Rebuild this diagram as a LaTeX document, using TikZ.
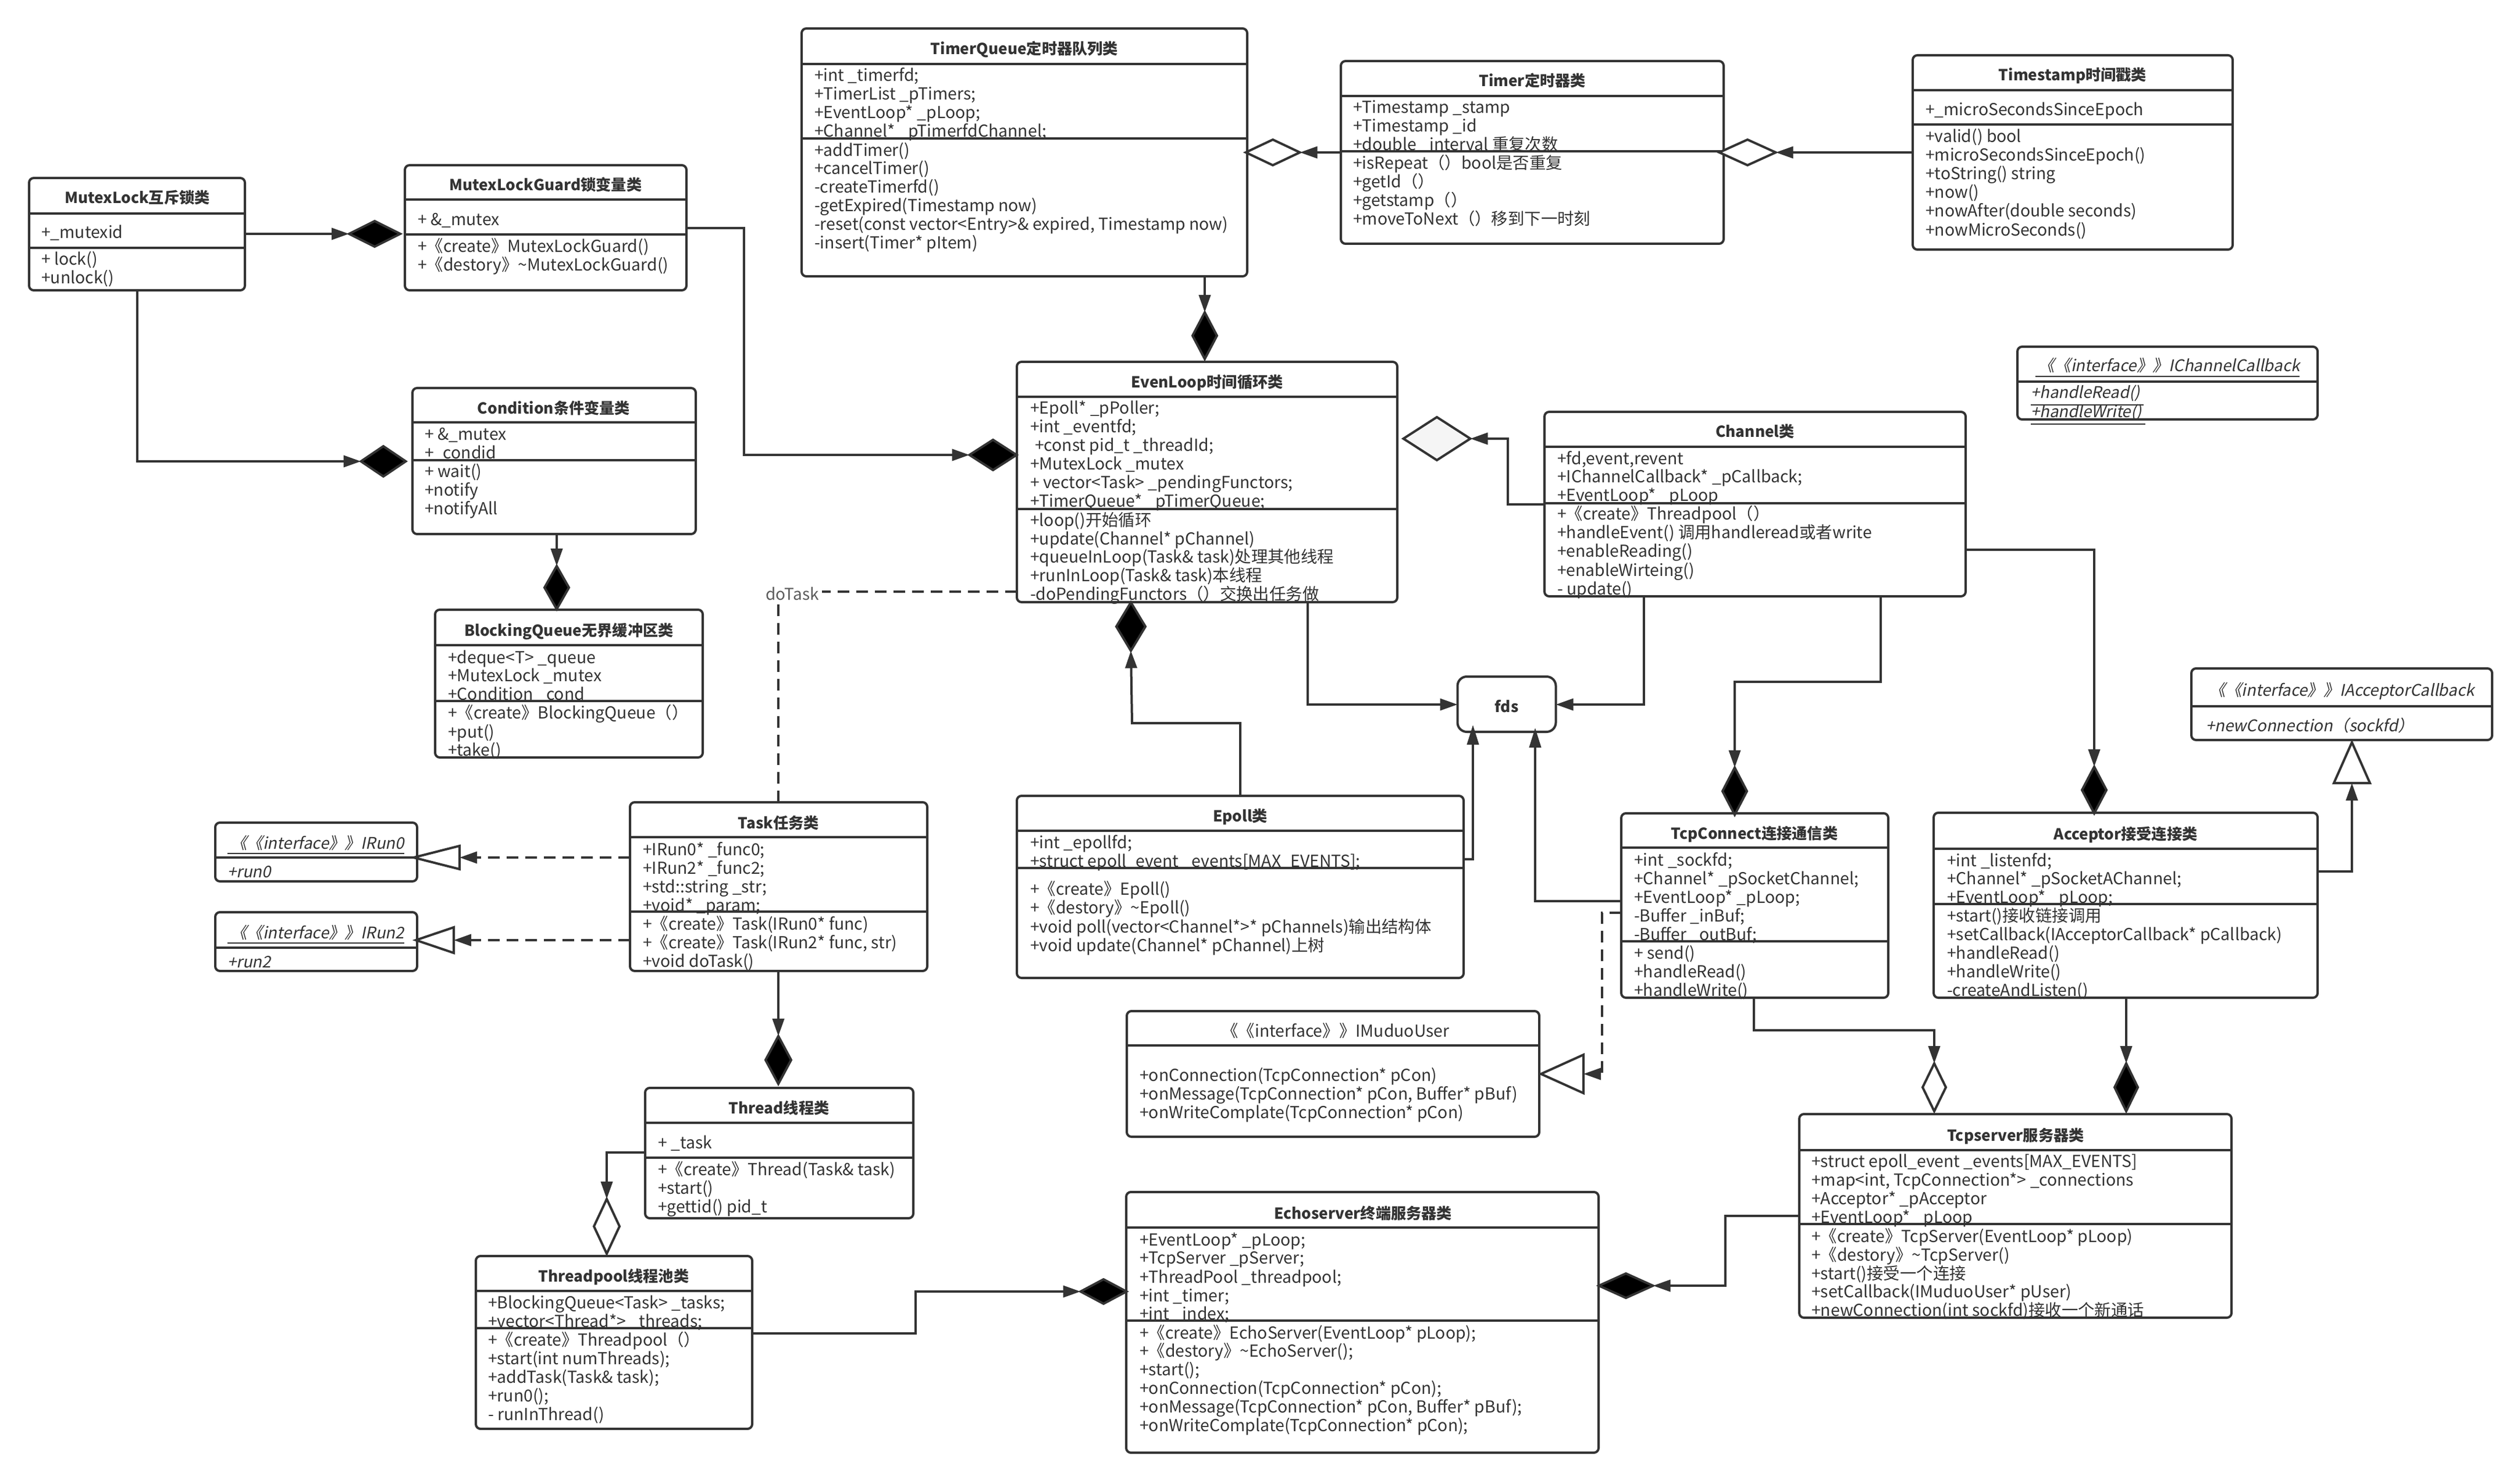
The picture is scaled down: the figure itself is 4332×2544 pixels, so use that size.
\documentclass[tikz,border=0pt]{standalone}
\usepackage{fontspec}
\setmainfont{Noto Sans CJK SC}
\newfontfamily\itfont[FakeSlant=0.2]{Noto Sans CJK SC}
\usetikzlibrary{shapes.geometric,arrows.meta,calc}
\definecolor{ink}{HTML}{333333}
\newcounter{tc}
\tikzset{
  x=0.25pt,y=-0.25pt,
  umlbox/.style={draw=ink,line width=1pt,rounded corners=2pt,inner sep=0pt,outer sep=0pt},
  divider/.style={draw=ink,line width=1pt},
  txt/.style={anchor=base west,inner sep=0pt,outer sep=0pt,text=ink,font=\fontsize{7.1pt}{8pt}\selectfont},
  ttl/.style={anchor=base,inner sep=0pt,outer sep=0pt,text=ink,font=\fontsize{6.55pt}{8pt}\selectfont\bfseries},
  ittl/.style={anchor=base,inner sep=0pt,outer sep=0pt,text=ink,font=\fontsize{6.9pt}{8pt}\selectfont\itfont},
  conn/.style={draw=ink,line width=1pt,-{Triangle[length=7.5pt,width=5pt]}},
  plainconn/.style={draw=ink,line width=1pt},
  dashconn/.style={draw=ink,line width=1pt,dash pattern=on 5pt off 3pt},
  dfull/.style={diamond,aspect=1,draw=ink,fill=black,line width=1pt,inner sep=0pt,outer sep=0pt},
  dopen/.style={diamond,aspect=1,draw=ink,fill=white,line width=1pt,inner sep=0pt,outer sep=0pt},
  dgray/.style={diamond,aspect=1,draw=ink,fill=black!4,line width=1pt,inner sep=0pt,outer sep=0pt},
  tri/.style={draw=ink,fill=white,line width=1pt},
}
% box: name, x0, y0, x1, y1, div1, div2
\newcommand{\ubox}[7]{%
  \pgfmathsetlengthmacro{\bw}{(#4-#2)*0.25}\pgfmathsetlengthmacro{\bh}{(#5-#3)*0.25}%
  \node[umlbox,minimum width=\bw,minimum height=\bh] (#1) at ({(#2+#4)/2},{(#3+#5)/2}) {};%
  \draw[divider] (#1.west |- 0,#6) -- (#1.east |- 0,#6);%
  \ifx\relax#7\relax\else\draw[divider] (#1.west |- 0,#7) -- (#1.east |- 0,#7);\fi
}
\newcommand{\tl}[3]{\stepcounter{tc}\node[txt] (t\arabic{tc}) at (#1,{#2+10}) {#3};}
\newcommand{\ttlat}[3]{\stepcounter{tc}\node[ttl] (t\arabic{tc}) at (#1,{#2+10}) {#3};}
\newcommand{\ittlat}[3]{\stepcounter{tc}\node[ittl] (t\arabic{tc}) at (#1,{#2+10}) {#3};}
\newcommand{\dm}[6]{\node[#1,minimum width=#5*0.25pt,minimum height=#6*0.25pt] (#2) at (#3,#4) {};}
\begin{document}
\begin{tikzpicture}
\useasboundingbox[fill=white] (0,0) rectangle (4332,2544);

% MutexLock
\ubox{mlock}{50}{306}{421}{499}{367}{426}
\ttlat{236}{340}{MutexLock互斥锁类}
\tl{71}{400}{+\_mutexid}\tl{71}{446}{+ lock()}\tl{71}{478}{+unlock()}
% MutexLockGuard
\ubox{guard}{696}{284}{1180}{499}{343}{403}
\ttlat{938}{318}{MutexLockGuard锁变量类}
\tl{718}{378}{+ \&\_mutex}\tl{718}{424}{+《create》MutexLockGuard()}\tl{718}{456}{+《destory》\textasciitilde MutexLockGuard()}
% Condition
\ubox{cond}{709}{667}{1196}{918}{726}{791}
\ttlat{952}{702}{Condition条件变量类}
\tl{730}{747}{+ \&\_mutex}\tl{730}{779}{+\_condid}\tl{730}{811}{+ wait()}\tl{730}{843}{+notify}\tl{730}{875}{+notifyAll}
% BlockingQueue
\ubox{bq}{748}{1048}{1208}{1302}{1109}{1205}
\ttlat{978}{1083}{BlockingQueue无界缓冲区类}
\tl{770}{1130}{+deque<T> \_queue}\tl{770}{1161}{+MutexLock \_mutex}\tl{770}{1193}{+Condition \_cond}
\tl{770}{1225}{+《create》BlockingQueue（）}\tl{770}{1258}{+put()}\tl{770}{1289}{+take()}
% TimerQueue
\ubox{tq}{1378}{49}{2144}{475}{110}{238}
\ttlat{1761}{84}{TimerQueue定时器队列类}
\tl{1400}{130}{+int \_timerfd;}\tl{1400}{162}{+TimerList \_pTimers;}\tl{1400}{194}{+EventLoop* \_pLoop;}\tl{1400}{226}{+Channel* \_pTimerfdChannel;}
\tl{1400}{259}{+addTimer()}\tl{1400}{290}{+cancelTimer()}\tl{1400}{322}{-createTimerfd()}\tl{1400}{354}{-getExpired(Timestamp now)}\tl{1400}{386}{-reset(const vector<Entry>\& expired, Timestamp now)}\tl{1400}{418}{-insert(Timer* pItem)}
% Timer
\ubox{timer}{2305}{105}{2963}{419}{165}{260}
\ttlat{2634}{139}{Timer定时器类}
\tl{2326}{185}{+Timestamp \_stamp}\tl{2326}{217}{+Timestamp \_id}\tl{2326}{249}{+double \_interval 重复次数}
\tl{2326}{281}{+isRepeat（）bool是否重复}\tl{2326}{313}{+getId（）}\tl{2326}{345}{+getstamp（）}\tl{2326}{377}{+moveToNext（）移到下一时刻}
% Timestamp
\ubox{tstamp}{3288}{95}{3838}{429}{155}{214}
\ttlat{3563}{129}{Timestamp时间戳类}
\tl{3310}{189}{+\_microSecondsSinceEpoch}\tl{3310}{235}{+valid() bool}\tl{3310}{267}{+microSecondsSinceEpoch()}\tl{3310}{299}{+toString() string}\tl{3310}{331}{+now()}\tl{3310}{363}{+nowAfter(double seconds)}\tl{3310}{396}{+nowMicroSeconds()}
% EvenLoop
\ubox{loop}{1748}{622}{2402}{1035}{682}{875}
\ttlat{2075}{657}{EvenLoop时间循环类}
\tl{1771}{702}{+Epoll* \_pPoller;}\tl{1771}{734}{+int \_eventfd;}\tl{1779}{766}{+const pid\_t \_threadId;}\tl{1771}{798}{+MutexLock \_mutex}\tl{1771}{830}{+ vector<Task> \_pendingFunctors;}\tl{1771}{862}{+TimerQueue* \_pTimerQueue;}
\tl{1771}{894}{+loop()开始循环}\tl{1771}{926}{+update(Channel* pChannel)}\tl{1771}{958}{+queueInLoop(Task\& task)处理其他线程}\tl{1771}{990}{+runInLoop(Task\& task)本线程}\tl{1771}{1022}{-doPendingFunctors（）交换出任务做}
% Channel
\ubox{chan}{2655}{708}{3379}{1025}{768}{865}
\ttlat{3017}{742}{Channel类}
\tl{2677}{789}{+fd,event,revent}\tl{2677}{820}{+IChannelCallback* \_pCallback;}\tl{2677}{852}{+EventLoop* \_pLoop}
\tl{2677}{884}{+《create》Threadpool（）}\tl{2677}{916}{+handleEvent() 调用handleread或者write}\tl{2677}{948}{+enableReading()}\tl{2677}{980}{+enableWirteing()}\tl{2677}{1012}{- update()}
% IChannelCallback
\ubox{ichan}{3468}{596}{3984}{721}{656}{}
\ittlat{3726}{629}{\underline{\ 《《interface》》IChannelCallback}}
\stepcounter{tc}\node[ittl,anchor=base west] (t\arabic{tc}) at (3491,685) {\underline{+handleRead()\ }};
\stepcounter{tc}\node[ittl,anchor=base west] (t\arabic{tc}) at (3491,718) {\underline{+handleWrite()\ }};
% IAcceptorCallback
\ubox{iacc}{3767}{1149}{4284}{1272}{1214}{}
\ittlat{4026}{1186}{《《interface》》IAcceptorCallback}
\stepcounter{tc}\node[ittl,anchor=base west] (t\arabic{tc}) at (3792,1257) {+newConnection（sockfd）};
% fds
\node[umlbox,rounded corners=4pt,minimum width=42.25pt,minimum height=23.75pt] (fds) at (2590,1210.5) {};
\ttlat{2590}{1214}{fds}
% Epoll
\ubox{epoll}{1748}{1368}{2516}{1681}{1428}{1492}
\ttlat{2132}{1402}{Epoll类}
\tl{1771}{1448}{+int \_epollfd;}\tl{1771}{1480}{+struct epoll\_event \_events[MAX\_EVENTS];}
\tl{1771}{1528}{+《create》Epoll()}\tl{1771}{1560}{+《destory》\textasciitilde Epoll()}\tl{1771}{1593}{+void poll(vector<Channel*>* pChannels)输出结构体}\tl{1771}{1625}{+void update(Channel* pChannel)上树}
% TcpConnect
\ubox{tcpc}{2787}{1398}{3246}{1715}{1457}{1618}
\ttlat{3016}{1432}{TcpConnect连接通信类}
\tl{2809}{1478}{+int \_sockfd;}\tl{2809}{1510}{+Channel* \_pSocketChannel;}\tl{2809}{1542}{+EventLoop* \_pLoop;}\tl{2809}{1574}{-Buffer \_inBuf;}\tl{2809}{1606}{-Buffer \_outBuf;}
\tl{2809}{1638}{+ send()}\tl{2809}{1670}{+handleRead()}\tl{2809}{1702}{+handleWrite()}
% Acceptor
\ubox{acc}{3324}{1397}{3984}{1715}{1459}{1554}
\ttlat{3654}{1433}{Acceptor接受连接类}
\tl{3347}{1479}{+int \_listenfd;}\tl{3347}{1510}{+Channel* \_pSocketAChannel;}\tl{3347}{1542}{+EventLoop* \_pLoop;}
\tl{3347}{1574}{+start()接收链接调用}\tl{3347}{1606}{+setCallback(IAcceptorCallback* pCallback)}\tl{3347}{1638}{+handleRead()}\tl{3347}{1670}{+handleWrite()}\tl{3347}{1702}{-createAndListen()}
% IMuduoUser
\ubox{imu}{1937}{1738}{2646}{1954}{1797}{}
\stepcounter{tc}\node[txt,anchor=base] (t\arabic{tc}) at (2296,1782) {《《interface》》IMuduoUser};
\tl{1959}{1848}{+onConnection(TcpConnection* pCon)}\tl{1959}{1880}{+onMessage(TcpConnection* pCon, Buffer* pBuf)}\tl{1959}{1912}{+onWriteComplate(TcpConnection* pCon)}
% Tcpserver
\ubox{tsrv}{3093}{1915}{3836}{2265}{1977}{2104}
\ttlat{3465}{1951}{Tcpserver服务器类}
\tl{3114}{1996}{+struct epoll\_event \_events[MAX\_EVENTS]}\tl{3114}{2028}{+map<int, TcpConnection*> \_connections}\tl{3114}{2060}{+Acceptor* \_pAcceptor}\tl{3114}{2092}{+EventLoop* \_pLoop}
\tl{3114}{2125}{+《create》TcpServer(EventLoop* pLoop)}\tl{3114}{2157}{+《destory》\textasciitilde TcpServer()}\tl{3114}{2189}{+start()接受一个连接}\tl{3114}{2220}{+setCallback(IMuduoUser* pUser)}\tl{3114}{2252}{+newConnection(int sockfd)接收一个新通话}
% Echoserver
\ubox{echo}{1936}{2049}{2748}{2497}{2110}{2270}
\ttlat{2343}{2085}{Echoserver终端服务器类}
\tl{1959}{2131}{+EventLoop* \_pLoop;}\tl{1959}{2162}{+TcpServer \_pServer;}\tl{1959}{2195}{+ThreadPool \_threadpool;}\tl{1959}{2227}{+int \_timer;}\tl{1959}{2258}{+int \_index;}
\tl{1959}{2291}{+《create》EchoServer(EventLoop* pLoop);}\tl{1959}{2322}{+《destory》\textasciitilde EchoServer();}\tl{1959}{2354}{+start();}\tl{1959}{2386}{+onConnection(TcpConnection* pCon);}\tl{1959}{2418}{+onMessage(TcpConnection* pCon, Buffer* pBuf);}\tl{1959}{2450}{+onWriteComplate(TcpConnection* pCon);}
% Threadpool
\ubox{tpool}{818}{2159}{1293}{2456}{2219}{2283}
\ttlat{1055}{2193}{Threadpool线程池类}
\tl{839}{2239}{+BlockingQueue<Task> \_tasks;}\tl{839}{2271}{+vector<Thread*> \_threads;}
\tl{839}{2303}{+《create》Threadpool（）}\tl{839}{2335}{+start(int numThreads);}\tl{839}{2367}{+addTask(Task\& task);}\tl{839}{2399}{+run0();}\tl{839}{2431}{- runInThread()}
% Thread
\ubox{thr}{1109}{1870}{1570}{2094}{1930}{1990}
\ttlat{1339}{1904}{Thread线程类}
\tl{1131}{1964}{+ \_task}\tl{1131}{2010}{+《create》Thread(Task\& task)}\tl{1131}{2042}{+start()}\tl{1131}{2074}{+gettid() pid\_t}
% Task
\ubox{task}{1083}{1379}{1594}{1669}{1439}{1567}
\ttlat{1338}{1414}{Task任务类}
\tl{1105}{1460}{+IRun0* \_func0;}\tl{1105}{1492}{+IRun2* \_func2;}\tl{1105}{1524}{+std::string \_str;}\tl{1105}{1556}{+void* \_param;}
\tl{1105}{1588}{+《create》Task(IRun0* func)}\tl{1105}{1620}{+《create》Task(IRun2* func, str)}\tl{1105}{1652}{+void doTask()}
% IRun0 / IRun2
\ubox{irun0}{370}{1414}{717}{1515}{1474}{}
\ittlat{543}{1449}{\underline{\ 《《interface》》IRun0}}
\stepcounter{tc}\node[ittl,anchor=base west] (t\arabic{tc}) at (391,1508) {\underline{+run0}};
\ubox{irun2}{370}{1568}{717}{1669}{1629}{}
\ittlat{543}{1603}{\underline{\ 《《interface》》IRun2}}
\stepcounter{tc}\node[ittl,anchor=base west] (t\arabic{tc}) at (391,1663) {\underline{+run2}};

% diamonds
\dm{dfull}{dG}{644}{402}{88}{44}
\dm{dfull}{dC}{659}{793}{77}{52}
\dm{dfull}{dB}{957}{1010}{42}{74}
\dm{dfull}{dL}{1707}{782}{81}{52}
\dm{dfull}{dT}{2071}{577}{42}{80}
\dm{dfull}{dE}{1944}{1077}{50}{83}
\dm{dopen}{dQ}{2188}{262}{93}{44}
\dm{dopen}{dS}{3004}{262}{97}{44}
\dm{dgray}{dH}{2470}{754}{115}{74}
\dm{dfull}{dTC}{2982}{1360}{42}{81}
\dm{dfull}{dAC}{3600}{1358}{42}{80}
\dm{dopen}{dSC}{3325}{1869}{40}{82}
\dm{dfull}{dSA}{3655}{1869}{40}{82}
\dm{dfull}{dEC}{2795}{2210}{93}{42}
\dm{dfull}{dEP}{1897}{2220}{79}{42}
\dm{dopen}{dTP}{1043}{2108}{44}{94}
\dm{dfull}{dTH}{1338}{1822}{44}{82}

% triangles
\coordinate (t0b) at (790,1474);  \draw[tri] (711,1474) -- (790,1454) -- (790,1494) -- cycle;
\coordinate (t2b) at (780,1616);  \draw[tri] (715,1616) -- (780,1594) -- (780,1638) -- cycle;
\coordinate (tmb) at (2722,1846); \draw[tri] (2649,1846) -- (2722,1813) -- (2722,1879) -- cycle;
\coordinate (tab) at (4043,1346); \draw[tri] (4043,1276) -- (4012,1346) -- (4074,1346) -- cycle;

% label
\node[inner sep=1pt,fill=white,text=ink!80,font=\fontsize{7pt}{8pt}\selectfont] (dotask) at (1362,1021) {doTask};

% connectors
\draw[conn] (mlock.east |- 0,402) -- (dG.west);
\draw[conn] (mlock.south -| 236,0) |- (dC.west);
\draw[conn] (guard.east |- 0,392) -- (1279,392) |- (dL.west);
\draw[conn] (cond.south -| 957,0) -- (dB.north);
\draw[conn] (tq.south -| 2071,0) -- (dT.north);
\draw[conn] (timer.west |- 0,262) -- (dQ.east);
\draw[conn] (tstamp.west |- 0,262) -- (dS.east);
\draw[conn] (chan.west |- 0,867) -- (2592,867) |- (dH.east);
\draw[conn] (epoll.north -| 2132,0) |- (1946,1243) -- (dE.south);
\draw[conn] (loop.south -| 2248,0) |- (fds.west |- 0,1211);
\draw[conn] (chan.south -| 2826,0) |- (fds.east |- 0,1211);
\draw[plainconn,-{Triangle[length=8.5pt,width=5pt]}] (epoll.east |- 0,1477) -- (2532,1477) -- (2532,1246);
\draw[plainconn,-{Triangle[length=8.5pt,width=5pt]}] (tcpc.west |- 0,1549) -- (2639,1549) -- (2639,1251);
\draw[conn] (chan.south -| 3233,0) |- (2982,1172) -- (dTC.north);
\draw[conn] (chan.east |- 0,945) -- (3600,945) -- (dAC.north);
\draw[conn] (tcpc.south -| 3015,0) |- (3325,1771) -- (dSC.north);
\draw[conn] (acc.south -| 3655,0) -- (dSA.north);
\draw[conn] (acc.east |- 0,1498) -| (tab);
\draw[conn] (tsrv.west |- 0,2090) -- (2966,2090) |- (dEC.east);
\draw[conn] (tpool.east |- 0,2292) -- (1574,2292) |- (dEP.west);
\draw[conn] (thr.west |- 0,1981) -| (dTP.north);
\draw[conn] (task.south -| 1338,0) -- (dTH.north);
\draw[dashconn,-{Triangle[length=7.5pt,width=5pt,sep=0pt]}] (task.west |- 0,1474) -- (t0b);
\draw[dashconn,-{Triangle[length=7.5pt,width=5pt]}] (task.west |- 0,1616) -- (t2b);
\draw[dashconn,-{Triangle[length=7.5pt,width=5pt]}] (tcpc.west |- 0,1569) -- (2754,1569) |- (tmb);
\draw[dashconn] (loop.west |- 0,1017) -- (dotask.east |- 0,1017);
\draw[dashconn] (task.north -| 1338,0) -- (dotask.south -| 1338,0);
\end{tikzpicture}
\end{document}
